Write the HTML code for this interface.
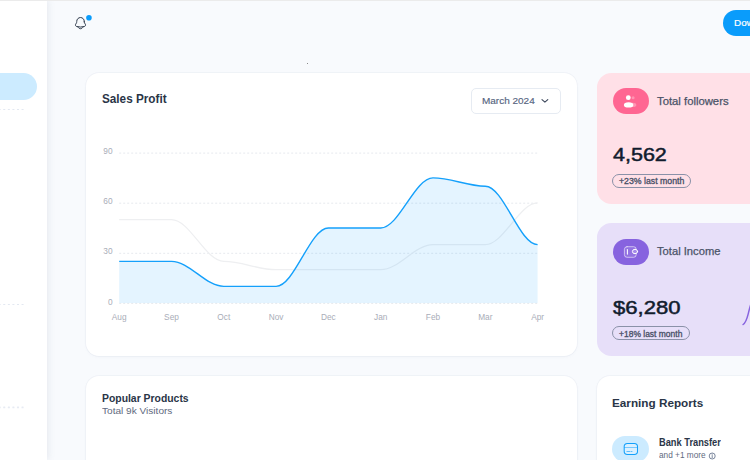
<!DOCTYPE html>
<html><head><meta charset="utf-8">
<style>
*{box-sizing:border-box;margin:0;padding:0}
html,body{width:750px;height:460px;overflow:hidden}
body{background:#f8fafd;font-family:"Liberation Sans",sans-serif;position:relative;color:#2a3547}
.abs{position:absolute}
.t{position:absolute;white-space:nowrap;line-height:1;transform-origin:0 50%}
#topline{left:0;top:0;width:750px;height:1px;background:#ebebeb;z-index:5}
#side{left:0;top:0;width:47px;height:460px;background:#fff;box-shadow:2px 0 6px rgba(120,130,160,.12)}
#pill{left:-20px;top:73px;width:57px;height:27.2px;border-radius:13.6px;background:#ccebff}
.dash{position:absolute;left:0;width:24px;height:1px;background:repeating-linear-gradient(90deg,#e9edf3 0 2.2px,transparent 2.2px 4.6px)}
.card{position:absolute;background:#fff;border-radius:13px;box-shadow:0 0 0 .7px rgba(205,212,226,.2),0 1px 3px rgba(120,135,170,.06)}
.ipill{position:absolute;left:612.5px;width:36.5px;height:26.3px;border-radius:13.2px}
.badge{position:absolute;left:612.2px;height:14.2px;border:1px solid #8a91a8;border-radius:7px}
svg{position:absolute;left:0;top:0;overflow:visible}
#chart text{font-family:"Liberation Sans",sans-serif;font-size:8.3px;fill:#a9adb8}
#chart .g line{stroke:#e6e9ee;stroke-width:1;stroke-dasharray:2 2}
</style></head><body>
<div class="abs" id="side"></div>
<div class="abs" id="topline"></div>
<div class="abs" id="pill"></div>
<svg width="750" height="460" viewBox="0 0 750 460"><g fill="#e3e8f1"><rect x="-1.40" y="109.00" width="2.1" height="1.00" rx=".3"/><rect x="3.20" y="109.00" width="2.1" height="1.00" rx=".3"/><rect x="7.80" y="109.00" width="2.1" height="1.00" rx=".3"/><rect x="12.35" y="109.00" width="2.1" height="1.00" rx=".3"/><rect x="16.95" y="109.00" width="2.1" height="1.00" rx=".3"/><rect x="21.50" y="109.00" width="2.1" height="1.00" rx=".3"/><rect x="-1.40" y="304.00" width="2.1" height="1.00" rx=".3"/><rect x="3.20" y="304.00" width="2.1" height="1.00" rx=".3"/><rect x="7.80" y="304.00" width="2.1" height="1.00" rx=".3"/><rect x="12.35" y="304.00" width="2.1" height="1.00" rx=".3"/><rect x="16.95" y="304.00" width="2.1" height="1.00" rx=".3"/><rect x="21.50" y="304.00" width="2.1" height="1.00" rx=".3"/></g><g fill="#e7ebf3"><rect x="-1.40" y="406.60" width="2.1" height="1.60" rx=".3"/><rect x="3.20" y="406.60" width="2.1" height="1.60" rx=".3"/><rect x="7.80" y="406.60" width="2.1" height="1.60" rx=".3"/><rect x="12.35" y="406.60" width="2.1" height="1.60" rx=".3"/><rect x="16.95" y="406.60" width="2.1" height="1.60" rx=".3"/><rect x="21.50" y="406.60" width="2.1" height="1.60" rx=".3"/></g></svg>
<div class="abs" id="dot" style="left:307px;top:63px;width:1px;height:1px;background:#8a8a8a"></div>

<div class="card" id="c1" style="left:86.4px;top:72.5px;width:490.6px;height:283px"></div>
<div class="card" id="c2" style="left:86.4px;top:376.2px;width:490.6px;height:120px"></div>
<div class="card" id="c3" style="left:597px;top:72.5px;width:200px;height:131px;background:#ffe0e7;box-shadow:none;border-radius:14.5px"></div>
<div class="card" id="c4" style="left:597px;top:223px;width:200px;height:132.7px;background:#e7dff9;box-shadow:none;border-radius:14.5px"></div>
<div class="card" id="c5" style="left:597px;top:376px;width:200px;height:120px"></div>

<!-- bell -->
<svg width="750" height="460" viewBox="0 0 750 460" id="icons">
 <g transform="translate(73.78 16.4) scale(0.56)" fill="none" stroke="#2a3547" stroke-width="1.75" stroke-linecap="round" stroke-linejoin="round">
  <path d="M18.75 9.71v-.705C18.75 5.136 15.726 2 12 2S5.25 5.136 5.25 9.005v.705a4.4 4.4 0 0 1-.692 2.375L3.45 13.81c-1.011 1.575-.239 3.716 1.52 4.214a25.8 25.8 0 0 0 14.06 0c1.759-.498 2.531-2.639 1.52-4.213l-1.108-1.725a4.4 4.4 0 0 1-.693-2.375Z"/>
  <path d="M7.5 19c.655 1.748 2.422 3 4.5 3s3.845-1.252 4.5-3"/>
 </g>
 <circle cx="88.95" cy="17.7" r="2.8" fill="#0a9cfb"/>
</svg>

<!-- download button -->
<div class="abs" id="btn" style="left:722.9px;top:9.7px;width:80px;height:26.8px;border-radius:13.4px;background:#0a9cfb"></div>

<!-- dropdown -->
<div class="abs" id="dd" style="left:471.3px;top:88px;width:89.7px;height:25.5px;border:1px solid #e6ebf2;border-radius:5px;background:#fff"></div>
<svg width="750" height="460" viewBox="0 0 750 460"><path d="M542 99.6 L544.9 102.2 L547.8 99.6" fill="none" stroke="#3a4559" stroke-width="1.1" stroke-linecap="round" stroke-linejoin="round"/></svg>

<!-- chart -->
<svg width="750" height="460" viewBox="0 0 750 460" id="chart">
 <g class="g"><line x1="119.2" x2="537.6" y1="303.40" y2="303.40"/><line x1="119.2" x2="537.6" y1="253.30" y2="253.30"/><line x1="119.2" x2="537.6" y1="203.20" y2="203.20"/><line x1="119.2" x2="537.6" y1="153.10" y2="153.10"/></g>
 <path d="M119.20 219.60 C137.50 219.60 153.19 219.60 171.50 219.60 C189.81 219.60 205.50 261.35 223.80 261.35 C242.11 261.35 257.79 269.70 276.10 269.70 C294.40 269.70 310.09 269.70 328.40 269.70 C346.70 269.70 362.39 269.70 380.70 269.70 C399.00 269.70 414.69 244.65 433.00 244.65 C451.30 244.65 466.99 244.65 485.30 244.65 C503.60 244.65 519.30 202.90 537.60 202.90" fill="none" stroke="#eeeff1" stroke-width="1.25"/>
 <path d="M119.20 261.35 C137.50 261.35 153.19 261.35 171.50 261.35 C189.81 261.35 205.50 286.40 223.80 286.40 C242.11 286.40 257.79 286.40 276.10 286.40 C294.40 286.40 310.09 227.95 328.40 227.95 C346.70 227.95 362.39 227.95 380.70 227.95 C399.00 227.95 414.69 177.85 433.00 177.85 C451.30 177.85 466.99 186.20 485.30 186.20 C503.60 186.20 519.30 244.65 537.60 244.65 L537.60 303.10 L119.20 303.10 Z" fill="#0a9cfb" fill-opacity="0.11"/>
 <path d="M119.20 261.35 C137.50 261.35 153.19 261.35 171.50 261.35 C189.81 261.35 205.50 286.40 223.80 286.40 C242.11 286.40 257.79 286.40 276.10 286.40 C294.40 286.40 310.09 227.95 328.40 227.95 C346.70 227.95 362.39 227.95 380.70 227.95 C399.00 227.95 414.69 177.85 433.00 177.85 C451.30 177.85 466.99 186.20 485.30 186.20 C503.60 186.20 519.30 244.65 537.60 244.65" fill="none" stroke="#14a0fb" stroke-width="1.4" stroke-linecap="butt"/>
 <g><text x="112.5" y="304.50" text-anchor="end">0</text><text x="112.5" y="254.40" text-anchor="end">30</text><text x="112.5" y="204.30" text-anchor="end">60</text><text x="112.5" y="154.20" text-anchor="end">90</text></g>
 <g><text x="119.20" y="319.9" text-anchor="middle">Aug</text><text x="171.50" y="319.9" text-anchor="middle">Sep</text><text x="223.80" y="319.9" text-anchor="middle">Oct</text><text x="276.10" y="319.9" text-anchor="middle">Nov</text><text x="328.40" y="319.9" text-anchor="middle">Dec</text><text x="380.70" y="319.9" text-anchor="middle">Jan</text><text x="433.00" y="319.9" text-anchor="middle">Feb</text><text x="485.30" y="319.9" text-anchor="middle">Mar</text><text x="537.60" y="319.9" text-anchor="middle">Apr</text></g>
</svg>

<!-- icon pills -->
<div class="ipill" style="top:88.1px;background:#ff6692"></div>
<div class="ipill" style="top:238.6px;background:#8763df"></div>
<div class="ipill" style="top:435.8px;background:#ccebff;left:612.2px;width:36.8px"></div>
<svg width="750" height="460" viewBox="0 0 750 460">
 <!-- users -->
 <g fill="#fff">
  <g opacity=".3"><circle cx="633.1" cy="97.7" r="1.5"/><ellipse cx="632.6" cy="104.9" rx="3.7" ry="2.1"/></g>
  <circle cx="628.3" cy="97.7" r="2.4"/>
  <ellipse cx="628.6" cy="104.9" rx="4.7" ry="2.6"/>
 </g>
 <!-- wallet -->
 <g fill="none" stroke="#fff" stroke-linecap="round" stroke-linejoin="round">
  <rect x="624.4" y="246.7" width="11.8" height="10.6" rx="2.6" stroke-width=".95" stroke-opacity=".6" fill="#fff" fill-opacity=".1"/>
  <path d="M627.4 249.5 V254.1" stroke-width="1.05"/>
  <ellipse cx="635" cy="251.5" rx="2.6" ry="2.2" stroke-width="1" fill="#a58aea"/>
 </g>
 <!-- credit card -->
 <g fill="none" stroke="#12a0fb" stroke-linecap="round" stroke-linejoin="round">
  <rect x="624.2" y="443.4" width="13.3" height="11" rx="3.2" stroke-width="1.05" fill="#fff" fill-opacity=".28"/>
  <path d="M624.4 447.5 H637.3" stroke-width=".9" stroke-opacity=".55"/>
  <path d="M626.9 451.5 H629.6 M630.9 451.5 H632" stroke-width=".9" stroke-opacity=".7"/>
 </g>
 <!-- purple spark -->
 <path d="M743.1 324.5 C745.6 322.8 747 318.6 748 314.6 C748.8 311.5 749.5 308.5 750.6 305" fill="none" stroke="#8763df" stroke-width="1.5" stroke-linecap="round"/>
 <!-- info icon -->
 <g fill="none" stroke="#5a6a85" stroke-width=".8"><circle cx="712.2" cy="456" r="3"/><path d="M712.2 455.5 V457.7 M712.2 454.1 V454.3" stroke-linecap="round"/></g>
</svg>

<div class="badge" style="top:173.5px;width:79px"></div>
<div class="badge" style="top:326.2px;width:77.7px"></div>

<div class="t" id="t_sales" style="left:101.9px;top:92.0px;font-size:13.0px;font-weight:bold;color:#2a3547;transform:scaleX(0.903)">Sales Profit</div>
<div class="t" id="t_march" style="left:482.2px;top:96.0px;font-size:9.4px;font-weight:normal;color:#56657f;transform:scaleX(1.064);-webkit-text-stroke:0.15px #56657f">March 2024</div>
<div class="t" id="t_tf" style="left:657.4px;top:96px;font-size:10.8px;font-weight:normal;color:#4a5368;transform:scaleX(1.046);-webkit-text-stroke:0.25px #4a5368">Total followers</div>
<div class="t" id="t_4562" style="left:613.0px;top:145.0px;font-size:19.0px;font-weight:normal;color:#111c2d;transform:scaleX(1.132);-webkit-text-stroke:0.5px #111c2d">4,562</div>
<div class="t" id="t_23" style="left:619.0px;top:177.0px;font-size:8.4px;font-weight:normal;color:#474f66;transform:scaleX(1.044);-webkit-text-stroke:0.3px #474f66">+23% last month</div>
<div class="t" id="t_ti" style="left:657.4px;top:246px;font-size:10.8px;font-weight:normal;color:#4a5368;transform:scaleX(1.036);-webkit-text-stroke:0.25px #4a5368">Total Income</div>
<div class="t" id="t_6280" style="left:613.0px;top:298.0px;font-size:19.0px;font-weight:normal;color:#111c2d;transform:scaleX(1.162);-webkit-text-stroke:0.5px #111c2d">$6,280</div>
<div class="t" id="t_18" style="left:619.3px;top:330px;font-size:8.4px;font-weight:normal;color:#474f66;transform:scaleX(1.012);-webkit-text-stroke:0.3px #474f66">+18% last month</div>
<div class="t" id="t_er" style="left:612.4px;top:398px;font-size:11.4px;font-weight:bold;color:#2a3547;transform:scaleX(1.03)">Earning Reports</div>
<div class="t" id="t_bt" style="left:659.0px;top:438.0px;font-size:10.2px;font-weight:bold;color:#2a3547;transform:scaleX(0.91)">Bank Transfer</div>
<div class="t" id="t_am" style="left:659.0px;top:451.0px;font-size:8.6px;font-weight:normal;color:#5f6a80;transform:scaleX(0.963)">and +1 more</div>
<div class="t" id="t_pp" style="left:102.2px;top:393.0px;font-size:11.3px;font-weight:bold;color:#2a3547;transform:scaleX(0.92)">Popular Products</div>
<div class="t" id="t_tv" style="left:102.2px;top:406.0px;font-size:9.8px;font-weight:normal;color:#5f6a80;transform:scaleX(1.029)">Total 9k Visitors</div>
<div class="t" id="t_dow" style="left:734.1px;top:18px;font-size:9.9px;font-weight:normal;color:#ffffff;transform:scaleX(1.0);-webkit-text-stroke:0.2px #ffffff">Download</div>

</body></html>
